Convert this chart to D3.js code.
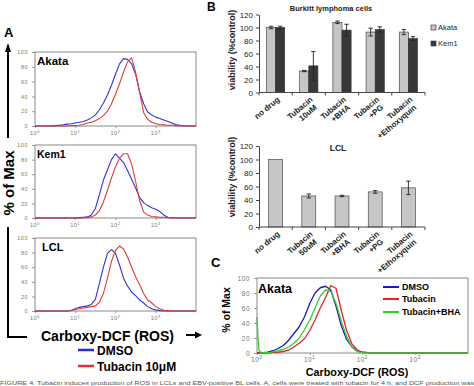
<!DOCTYPE html>
<html>
<head>
<meta charset="utf-8">
<script src="https://cdn.jsdelivr.net/npm/d3@7"></script>
<style>
  body { margin: 0; background: #fff; }
  svg { font-family: "Liberation Sans", Arial, sans-serif; }
</style>
</head>
<body>
<svg id="fig" width="474" height="386"></svg>
<script>
// ---- histogram data: log10(channel) grid + % of max ----
var logGrid = [0,0.1,0.2,0.3,0.4,0.5,0.6,0.7,0.8,0.9,1,1.1,1.2,1.3,1.4,1.5,1.6,1.7,1.8,1.9,2,2.1,2.2,2.3,2.4,2.5,2.6,2.7,2.8,2.9,3,3.1,3.2,3.3,3.4,3.5,3.6,3.7,3.8,3.9,4];

var akataDmso = [0,0,0,0,0, 0.5,1,1.5,2.5,3, 4,5,6,8,11, 15,22,31,42,55, 70,84,91,90,84, 70,46,30,19,15, 12,10,8,6,4, 2,1,0,0,0,0];
var akataTub  = [0,0,0,0,0, 0,0,0,0,0.5, 0.5,1,2,4,5, 7,10,14,20,30, 43,57,73,87,92, 72,45,18,9,5, 3,2,1.5,1,1, 0.5,0,0,0,0,0];
var kem1Dmso  = [0,0,0,0,0, 0,0,0,0,0, 0,0.5,1,1.5,4, 13,32,52,66,80, 88,82,76,65,53, 41,28,21,17,14, 12,9,4,1,0, 0,0,0,0,0,0];
var kem1Tub   = [0,0,0,0,0, 0,0,0,0,0, 0,0,0,0.5,1.5, 4,10,22,38,55, 70,82,88,88,74, 50,24,8,4,2, 1.5,1,1,0.5,0, 0,0,0,0,0,0];
var lclDmso   = [0,0,0,0,0, 0,0,0,0,1, 3,5,6,7,9, 16,38,60,79,84, 79,63,45,34,26, 21,15,11,6,3, 1.5,0.5,0,0,0, 0,0,0,0,0,0];
var lclTub    = [0,0,0,0,0, 0,0,0,0,0.5, 2,3,4,5,6, 7,12,24,45,68, 83,89,85,74,60, 47,36,24,15,11, 6,3,1,0.5,0, 0,0,0,0,0,0];

var logGridC = [0,0.02,0.04,0.07,0.1,0.2,0.3,0.4,0.5,0.6,0.7,0.8,0.9,1,1.1,1.2,1.3,1.4,1.5,1.6,1.7,1.8,1.9,2,2.1,2.2,2.4,2.7,3,3.5,4];
var cDmso = [0.5,0.5,0.5,0.5,0.5, 1,3,6,10,17, 26,35,48,66,80, 87,89,84,62,36, 18,8,3,1,0.5, 0,0,0,0,0,0];
var cTub  = [0,0,0,0,0, 0,0.5,1,2,4, 8,13,19,30,44, 60,74,90,86,56, 30,12,4,1,0.5, 0,0,0,0,0,0];
var cBha  = [48,18,3,1,0.5, 0.5,1.5,3,5,8, 13,20,31,44,60, 76,84,82,66,42, 22,8,2,0.5,0, 0,0,0,0,0,0];

var pctTicks = [0,20,40,60,80,100];
var decadeTicks = [0,1,2,3];

// ---- viability data ----
var blCats = ["no drug", "Tubacin\n10uM", "Tubacin\n+BHA", "Tubacin\n+PG", "Tubacin\n+Ethoxyquin"];
var blSeries = ["Akata", "Kem1"];
var akataViab = [100, 33, 108, 93, 93];
var akataErr  = [2, 1, 2, 6, 4];
var kem1Viab  = [100, 41, 96, 97, 83];
var kem1Err   = [2, 22, 9, 4, 3];

var lclCats = ["no drug", "Tubacin\n50uM", "Tubacin\n+BHA", "Tubacin\n+PG", "Tubacin\n+Ethoxyquin"];
var lclViab = [100, 46, 46, 52, 58];
var lclErr  = [0, 3, 1, 2, 10];
var viabTicks = [0,20,40,60,80,100,120];

var caption = "FIGURE 4. Tubacin induces production of ROS in LCLs and EBV-positive BL cells. A, cells were treated with tubacin for 4 h, and DCF production was";

var FONT = '"Liberation Sans", Arial, sans-serif';
var svg = d3.select("#fig");

function drawHist(box, grid, curves, opt) {
  var x = d3.scaleLog().domain([1, 1e4]).range([box.x0, box.x1]);
  var y = d3.scaleLinear().domain([0, 100]).range([box.y1, box.y0]);
  var g = svg.append("g");

  var yAx = g.append("g").attr("transform", "translate(" + box.x0 + ",0)")
    .call(d3.axisLeft(y).tickValues(pctTicks).tickSize(3).tickPadding(opt.pad));
  yAx.select(".domain").remove();
  yAx.selectAll("line").attr("stroke", "#999");
  yAx.selectAll("text").attr("font-size", opt.tick).attr("fill", "#777")
    .attr("font-family", FONT).attr("letter-spacing", 0.5);

  var xAx = g.append("g").attr("transform", "translate(0," + box.y1 + ")")
    .call(d3.axisBottom(x).tickValues(decadeTicks.map(function(e) { return Math.pow(10, e); }))
      .tickSize(2).tickFormat(""));
  xAx.select(".domain").remove();
  xAx.selectAll("line").attr("stroke", "#999");

  decadeTicks.forEach(function(e) {
    var t = g.append("text").attr("x", x(Math.pow(10, e))).attr("y", box.y1 + opt.xlab)
      .attr("text-anchor", "middle").attr("font-size", opt.tick).attr("fill", "#777")
      .attr("letter-spacing", 0.4);
    t.append("tspan").text("10");
    t.append("tspan").attr("dy", -opt.tick * 0.4).attr("font-size", opt.tick * 0.8).text(e);
  });

  g.append("rect").attr("x", box.x0).attr("y", box.y0)
    .attr("width", box.x1 - box.x0).attr("height", box.y1 - box.y0)
    .attr("fill", "none").attr("stroke", "#8a8a8a").attr("stroke-width", 1);

  var line = d3.line()
    .x(function(d, i) { return x(Math.pow(10, grid[i])); })
    .y(function(d) { return y(d); });

  curves.forEach(function(c) {
    g.append("path").datum(c.values).attr("d", line)
      .attr("fill", "none").attr("stroke", c.color).attr("stroke-width", opt.lw)
      .attr("stroke-linejoin", "round");
  });

  g.append("text").attr("x", opt.nameX).attr("y", opt.nameY)
    .attr("font-size", opt.nameSize).attr("font-weight", "bold").text(opt.name);
}

function drawLabels(g, x, yBase, cats) {
  cats.forEach(function(c) {
    var lines = c.split("\n");
    var t = g.append("text")
      .attr("transform", "translate(" + (x(c) + x.bandwidth() / 2 + 3) + "," + (yBase + 6) + ") rotate(-40)")
      .attr("text-anchor", "end").attr("font-size", 8).attr("font-weight", "bold").attr("fill", "#222");
    lines.forEach(function(l, i) {
      t.append("tspan").attr("x", i * -2).attr("dy", i === 0 ? "0.3em" : "1.1em").text(l);
    });
  });
}

function drawAxes(g, x, y, cats, yLabelY) {
  var yAx = g.append("g").attr("transform", "translate(259,0)")
    .call(d3.axisLeft(y).tickValues(viabTicks).tickSize(3).tickSizeOuter(0).tickPadding(3));
  yAx.select(".domain").attr("stroke", "#444");
  yAx.selectAll("line").attr("stroke", "#444");
  yAx.selectAll("text").attr("font-size", 8).attr("fill", "#222").attr("font-family", FONT);

  var y0 = y(0);
  g.append("line").attr("x1", 259).attr("x2", 425).attr("y1", y0).attr("y2", y0)
    .attr("stroke", "#444");
  var step = x.step();
  d3.range(cats.length + 1).forEach(function(i) {
    var xx = 259 + i * step;
    g.append("line").attr("x1", xx).attr("x2", xx).attr("y1", y0).attr("y2", y0 + 3).attr("stroke", "#444");
  });
  g.append("text").attr("transform", "translate(235," + yLabelY + ") rotate(-90)")
    .attr("text-anchor", "middle").attr("font-size", 9).attr("font-weight", "bold")
    .attr("fill", "#222").text("viability (%control)");
  drawLabels(g, x, y0, cats);
}

function errBar(g, cx, y, v, e) {
  if (!e) return;
  var top = y(v + e), bot = y(v - e);
  g.append("line").attr("x1", cx).attr("x2", cx).attr("y1", top).attr("y2", bot).attr("stroke", "#222").attr("stroke-width", 0.9);
  [top, bot].forEach(function(yy) {
    g.append("line").attr("x1", cx - 2.2).attr("x2", cx + 2.2).attr("y1", yy).attr("y2", yy).attr("stroke", "#222").attr("stroke-width", 0.9);
  });
}

// ---------- Panel A ----------
svg.append("text").attr("x", 4).attr("y", 37).attr("font-size", 13).attr("font-weight", "bold").text("A");

var boxA = { x0: 35, x1: 196 };
var optA = { pad: 4, tick: 5.5, xlab: 9, lw: 1.1 };
drawHist({ x0: boxA.x0, x1: boxA.x1, y0: 52, y1: 126 }, logGrid,
  [{ values: akataDmso, color: "#3535d0" }, { values: akataTub, color: "#e03a3a" }],
  Object.assign({ name: "Akata", nameX: 37, nameY: 65, nameSize: 11.5 }, optA));
drawHist({ x0: boxA.x0, x1: boxA.x1, y0: 145, y1: 218 }, logGrid,
  [{ values: kem1Dmso, color: "#3535d0" }, { values: kem1Tub, color: "#e03a3a" }],
  Object.assign({ name: "Kem1", nameX: 37, nameY: 158, nameSize: 10.5 }, optA));
drawHist({ x0: boxA.x0, x1: boxA.x1, y0: 238, y1: 311 }, logGrid,
  [{ values: lclDmso, color: "#3535d0" }, { values: lclTub, color: "#e03a3a" }],
  Object.assign({ name: "LCL", nameX: 42, nameY: 251, nameSize: 11 }, optA));

// big axis arrows
svg.append("line").attr("x1", 8).attr("x2", 8).attr("y1", 50).attr("y2", 138).attr("stroke", "#000").attr("stroke-width", 2);
svg.append("path").attr("d", "M8,43 L5,52 L11,52 Z").attr("fill", "#000");
svg.append("path").attr("d", "M8,227 L8,337 L27,337").attr("fill", "none").attr("stroke", "#000").attr("stroke-width", 2);
svg.append("text").attr("transform", "translate(14,183) rotate(-90)").attr("text-anchor", "middle")
  .attr("font-size", 15).attr("font-weight", "bold").text("% of Max");
svg.append("text").attr("x", 41).attr("y", 341).attr("font-size", 14).attr("font-weight", "bold").text("Carboxy-DCF (ROS)");
svg.append("line").attr("x1", 186).attr("x2", 197).attr("y1", 335).attr("y2", 335).attr("stroke", "#000").attr("stroke-width", 2);
svg.append("path").attr("d", "M202,335 L195,331.5 L195,338.5 Z").attr("fill", "#000");

// legend A
[{ t: "DMSO", c: "#2a2ad8", y: 350 }, { t: "Tubacin 10\u03bcM", c: "#e03030", y: 366 }].forEach(function(d) {
  svg.append("line").attr("x1", 78).attr("x2", 94).attr("y1", d.y).attr("y2", d.y).attr("stroke", d.c).attr("stroke-width", 2.5);
  svg.append("text").attr("x", 97).attr("y", d.y + 4.5).attr("font-size", 12).attr("font-weight", "bold").text(d.t);
});

// ---------- Panel B ----------
svg.append("text").attr("x", 207).attr("y", 11).attr("font-size", 12).attr("font-weight", "bold").text("B");

var gB = svg.append("g");
var xB = d3.scaleBand().domain(blCats).range([259, 425]).paddingInner(0.45).paddingOuter(0.225);
var xSub = d3.scaleBand().domain(blSeries).range([0, xB.bandwidth()]);
var yB = d3.scaleLinear().domain([0, 120]).range([92.5, 14.5]);
var blVals = { Akata: akataViab, Kem1: kem1Viab };
var blErrs = { Akata: akataErr, Kem1: kem1Err };
var blFill = { Akata: "#c6c6c6", Kem1: "#383838" };

blSeries.forEach(function(s) {
  blCats.forEach(function(c, i) {
    gB.append("rect").attr("x", xB(c) + xSub(s)).attr("y", yB(blVals[s][i]))
      .attr("width", xSub.bandwidth()).attr("height", yB(0) - yB(blVals[s][i]))
      .attr("fill", blFill[s]).attr("stroke", "#333").attr("stroke-width", 0.6);
  });
});
blSeries.forEach(function(s) {
  blCats.forEach(function(c, i) {
    errBar(gB, xB(c) + xSub(s) + xSub.bandwidth() / 2, yB, blVals[s][i], blErrs[s][i]);
  });
});
drawAxes(gB, xB, yB, blCats, 50);
gB.append("text").attr("x", 331).attr("y", 11).attr("text-anchor", "middle").attr("font-size", 7.5)
  .attr("font-weight", "bold").attr("fill", "#222").text("Burkitt lymphoma cells");

blSeries.forEach(function(s, i) {
  var ly = 30 + i * 16;
  gB.append("rect").attr("x", 431).attr("y", ly - 5).attr("width", 5).attr("height", 5)
    .attr("fill", blFill[s]).attr("stroke", "#333").attr("stroke-width", 0.6);
  gB.append("text").attr("x", 438).attr("y", ly).attr("font-size", 7.5).attr("fill", "#222").text(s);
});

// LCL viability
var gL = svg.append("g");
var xL = d3.scaleBand().domain(lclCats).range([259, 425]).paddingInner(0.58).paddingOuter(0.29);
var yL = d3.scaleLinear().domain([0, 120]).range([227, 146]);
lclCats.forEach(function(c, i) {
  gL.append("rect").attr("x", xL(c)).attr("y", yL(lclViab[i]))
    .attr("width", xL.bandwidth()).attr("height", yL(0) - yL(lclViab[i]))
    .attr("fill", "#c6c6c6").attr("stroke", "#333").attr("stroke-width", 0.6);
  errBar(gL, xL(c) + xL.bandwidth() / 2, yL, lclViab[i], lclErr[i]);
});
drawAxes(gL, xL, yL, lclCats, 177);
gL.append("text").attr("x", 338).attr("y", 151).attr("text-anchor", "middle").attr("font-size", 8.5)
  .attr("font-weight", "bold").attr("fill", "#222").text("LCL");

// ---------- Panel C ----------
svg.append("text").attr("x", 211).attr("y", 267).attr("font-size", 13).attr("font-weight", "bold").text("C");
drawHist({ x0: 257, x1: 468, y0: 278, y1: 353 }, logGridC,
  [{ values: cDmso, color: "#1a1ab8" }, { values: cTub, color: "#e6252b" }, { values: cBha, color: "#33cc33" }],
  { pad: 4, tick: 6.5, xlab: 9, lw: 1.3, name: "Akata", nameX: 258, nameY: 293, nameSize: 12.5 });
svg.append("text").attr("transform", "translate(230,310) rotate(-90)").attr("text-anchor", "middle")
  .attr("font-size", 10.5).attr("font-weight", "bold").text("% of Max");
svg.append("text").attr("x", 357).attr("y", 376).attr("text-anchor", "middle")
  .attr("font-size", 10.8).attr("font-weight", "bold").text("Carboxy-DCF (ROS)");

[{ t: "DMSO", c: "#1a1ab8", y: 287 }, { t: "Tubacin", c: "#e6252b", y: 299 }, { t: "Tubacin+BHA", c: "#33cc33", y: 312 }].forEach(function(d) {
  svg.append("line").attr("x1", 383).attr("x2", 399).attr("y1", d.y).attr("y2", d.y).attr("stroke", d.c).attr("stroke-width", 2);
  svg.append("text").attr("x", 402).attr("y", d.y + 3.3).attr("font-size", 9).attr("font-weight", "bold").text(d.t);
});

// caption along the bottom edge
svg.append("text").attr("x", 0).attr("y", 384.5).attr("font-size", 6).attr("fill", "#555")
  .attr("textLength", 474).attr("lengthAdjust", "spacingAndGlyphs").text(caption);
</script>
</body>
</html>
